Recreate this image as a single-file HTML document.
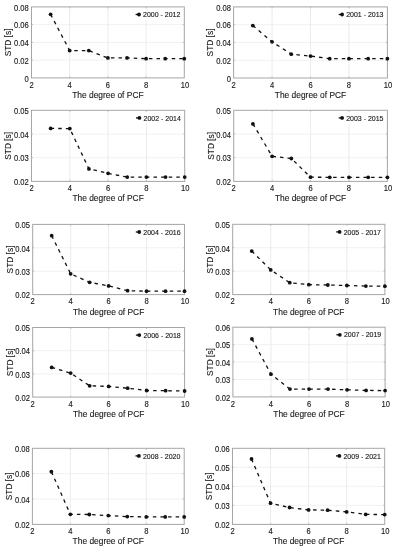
<!DOCTYPE html>
<html><head><meta charset="utf-8"><title>STD vs degree of PCF</title>
<style>
html,body{margin:0;padding:0;background:#fff;}
svg{display:block;}
text{font-family:"Liberation Sans", Arial, Helvetica, sans-serif;fill:#1a1a1a;stroke:#1a1a1a;stroke-width:0.12px;}
</style></head>
<body>
<svg width="395" height="550" viewBox="0 0 395 550">
<rect width="395" height="550" fill="#fff"/>
<path d="M69.7 6.9V77.9M107.9 6.9V77.9M146.1 6.9V77.9" stroke="#e3e3e3" stroke-width="0.7" fill="none"/>
<path d="M31.5 60.15H184.3M31.5 42.4H184.3M31.5 24.65H184.3" stroke="#ebebeb" stroke-width="0.7" fill="none"/>
<path d="M69.7 77.9v-1.5M69.7 6.9v1.5M107.9 77.9v-1.5M107.9 6.9v1.5M146.1 77.9v-1.5M146.1 6.9v1.5M31.5 60.15h1.5M184.3 60.15h-1.5M31.5 42.4h1.5M184.3 42.4h-1.5M31.5 24.65h1.5M184.3 24.65h-1.5" stroke="#b0b0b0" stroke-width="0.7" fill="none"/>
<rect x="31.5" y="6.9" width="152.8" height="71" stroke="#a6a6a6" stroke-width="1.0" fill="none"/>
<polyline points="50.6,14.3 69.7,50.6 88.8,50.6 107.9,57.9 127,57.9 146.1,58.7 165.2,58.7 184.3,58.7" stroke="#111111" stroke-width="1.3" stroke-dasharray="3.5 4.1" fill="none"/>
<circle cx="50.6" cy="14.3" r="1.9" fill="#111111"/>
<circle cx="69.7" cy="50.6" r="1.9" fill="#111111"/>
<circle cx="88.8" cy="50.6" r="1.9" fill="#111111"/>
<circle cx="107.9" cy="57.9" r="1.9" fill="#111111"/>
<circle cx="127" cy="57.9" r="1.9" fill="#111111"/>
<circle cx="146.1" cy="58.7" r="1.9" fill="#111111"/>
<circle cx="165.2" cy="58.7" r="1.9" fill="#111111"/>
<circle cx="184.3" cy="58.7" r="1.9" fill="#111111"/>
<text transform="matrix(1,0,0,1.15,0,-11.85)" x="28.8" y="79" text-anchor="end" dominant-baseline="central" font-size="7.6">0</text>
<text transform="matrix(1,0,0,1.15,0,-9.19)" x="28.8" y="61.25" text-anchor="end" dominant-baseline="central" font-size="7.6">0.02</text>
<text transform="matrix(1,0,0,1.15,0,-6.52)" x="28.8" y="43.5" text-anchor="end" dominant-baseline="central" font-size="7.6">0.04</text>
<text transform="matrix(1,0,0,1.15,0,-3.86)" x="28.8" y="25.75" text-anchor="end" dominant-baseline="central" font-size="7.6">0.06</text>
<text transform="matrix(1,0,0,1.15,0,-1.2)" x="28.8" y="8" text-anchor="end" dominant-baseline="central" font-size="7.6">0.08</text>
<text transform="matrix(1,0,0,1.15,0,-12.76)" x="31.5" y="85.1" text-anchor="middle" dominant-baseline="central" font-size="7.6">2</text>
<text transform="matrix(1,0,0,1.15,0,-12.76)" x="69.7" y="85.1" text-anchor="middle" dominant-baseline="central" font-size="7.6">4</text>
<text transform="matrix(1,0,0,1.15,0,-12.76)" x="107.9" y="85.1" text-anchor="middle" dominant-baseline="central" font-size="7.6">6</text>
<text transform="matrix(1,0,0,1.15,0,-12.76)" x="146.1" y="85.1" text-anchor="middle" dominant-baseline="central" font-size="7.6">8</text>
<text transform="matrix(1,0,0,1.15,0,-12.76)" x="184.9" y="85.1" text-anchor="middle" dominant-baseline="central" font-size="7.6">10</text>
<text transform="matrix(1,0,0,1.03,0,-2.94)" x="107.9" y="97.9" text-anchor="middle" font-size="8.4">The degree of PCF</text>
<text transform="translate(8.3,42.4) rotate(-90)" x="0" y="0" text-anchor="middle" dominant-baseline="central" font-size="8.4">STD [s]</text>
<rect x="132.6" y="8.7" width="49.9" height="11.6" fill="#fff"/>
<text transform="matrix(1,0,0,1.15,0,-2.17)" x="180.4" y="14.5" text-anchor="end" dominant-baseline="central" font-size="7.0">2000 - 2012</text>
<path d="M135.6 14.5H139" stroke="#111111" stroke-width="1.3"/>
<circle cx="139" cy="14.5" r="1.9" fill="#111111"/>
<path d="M272.05 6.9V78M310.5 6.9V78M348.95 6.9V78" stroke="#e3e3e3" stroke-width="0.7" fill="none"/>
<path d="M233.6 60.23H387.4M233.6 42.45H387.4M233.6 24.68H387.4" stroke="#ebebeb" stroke-width="0.7" fill="none"/>
<path d="M272.05 78v-1.5M272.05 6.9v1.5M310.5 78v-1.5M310.5 6.9v1.5M348.95 78v-1.5M348.95 6.9v1.5M233.6 60.23h1.5M387.4 60.23h-1.5M233.6 42.45h1.5M387.4 42.45h-1.5M233.6 24.68h1.5M387.4 24.68h-1.5" stroke="#b0b0b0" stroke-width="0.7" fill="none"/>
<rect x="233.6" y="6.9" width="153.8" height="71.1" stroke="#a6a6a6" stroke-width="1.0" fill="none"/>
<polyline points="252.82,25.6 272.05,41.8 291.27,54.2 310.5,56.1 329.72,58.7 348.95,58.7 368.17,58.7 387.4,58.7" stroke="#111111" stroke-width="1.3" stroke-dasharray="3.5 4.1" fill="none"/>
<circle cx="252.82" cy="25.6" r="1.9" fill="#111111"/>
<circle cx="272.05" cy="41.8" r="1.9" fill="#111111"/>
<circle cx="291.27" cy="54.2" r="1.9" fill="#111111"/>
<circle cx="310.5" cy="56.1" r="1.9" fill="#111111"/>
<circle cx="329.72" cy="58.7" r="1.9" fill="#111111"/>
<circle cx="348.95" cy="58.7" r="1.9" fill="#111111"/>
<circle cx="368.17" cy="58.7" r="1.9" fill="#111111"/>
<circle cx="387.4" cy="58.7" r="1.9" fill="#111111"/>
<text transform="matrix(1,0,0,1.15,0,-11.86)" x="230.9" y="79.1" text-anchor="end" dominant-baseline="central" font-size="7.6">0</text>
<text transform="matrix(1,0,0,1.15,0,-9.2)" x="230.9" y="61.33" text-anchor="end" dominant-baseline="central" font-size="7.6">0.02</text>
<text transform="matrix(1,0,0,1.15,0,-6.53)" x="230.9" y="43.55" text-anchor="end" dominant-baseline="central" font-size="7.6">0.04</text>
<text transform="matrix(1,0,0,1.15,0,-3.87)" x="230.9" y="25.78" text-anchor="end" dominant-baseline="central" font-size="7.6">0.06</text>
<text transform="matrix(1,0,0,1.15,0,-1.2)" x="230.9" y="8" text-anchor="end" dominant-baseline="central" font-size="7.6">0.08</text>
<text transform="matrix(1,0,0,1.15,0,-12.78)" x="233.6" y="85.2" text-anchor="middle" dominant-baseline="central" font-size="7.6">2</text>
<text transform="matrix(1,0,0,1.15,0,-12.78)" x="272.05" y="85.2" text-anchor="middle" dominant-baseline="central" font-size="7.6">4</text>
<text transform="matrix(1,0,0,1.15,0,-12.78)" x="310.5" y="85.2" text-anchor="middle" dominant-baseline="central" font-size="7.6">6</text>
<text transform="matrix(1,0,0,1.15,0,-12.78)" x="348.95" y="85.2" text-anchor="middle" dominant-baseline="central" font-size="7.6">8</text>
<text transform="matrix(1,0,0,1.15,0,-12.78)" x="388" y="85.2" text-anchor="middle" dominant-baseline="central" font-size="7.6">10</text>
<text transform="matrix(1,0,0,1.03,0,-2.94)" x="310.5" y="98" text-anchor="middle" font-size="8.4">The degree of PCF</text>
<text transform="translate(210.4,42.45) rotate(-90)" x="0" y="0" text-anchor="middle" dominant-baseline="central" font-size="8.4">STD [s]</text>
<rect x="335.7" y="8.7" width="49.9" height="11.6" fill="#fff"/>
<text transform="matrix(1,0,0,1.15,0,-2.17)" x="383.5" y="14.5" text-anchor="end" dominant-baseline="central" font-size="7.0">2001 - 2013</text>
<path d="M338.7 14.5H342.1" stroke="#111111" stroke-width="1.3"/>
<circle cx="342.1" cy="14.5" r="1.9" fill="#111111"/>
<path d="M69.8 110.3V181.4M108.1 110.3V181.4M146.4 110.3V181.4" stroke="#e3e3e3" stroke-width="0.7" fill="none"/>
<path d="M31.5 157.7H184.7M31.5 134H184.7" stroke="#ebebeb" stroke-width="0.7" fill="none"/>
<path d="M69.8 181.4v-1.5M69.8 110.3v1.5M108.1 181.4v-1.5M108.1 110.3v1.5M146.4 181.4v-1.5M146.4 110.3v1.5M31.5 157.7h1.5M184.7 157.7h-1.5M31.5 134h1.5M184.7 134h-1.5" stroke="#b0b0b0" stroke-width="0.7" fill="none"/>
<rect x="31.5" y="110.3" width="153.2" height="71.1" stroke="#a6a6a6" stroke-width="1.0" fill="none"/>
<polyline points="50.65,128.4 69.8,128.6 88.95,168.9 108.1,173.3 127.25,177.1 146.4,177.1 165.55,177.1 184.7,177.1" stroke="#111111" stroke-width="1.3" stroke-dasharray="3.5 4.1" fill="none"/>
<circle cx="50.65" cy="128.4" r="1.9" fill="#111111"/>
<circle cx="69.8" cy="128.6" r="1.9" fill="#111111"/>
<circle cx="88.95" cy="168.9" r="1.9" fill="#111111"/>
<circle cx="108.1" cy="173.3" r="1.9" fill="#111111"/>
<circle cx="127.25" cy="177.1" r="1.9" fill="#111111"/>
<circle cx="146.4" cy="177.1" r="1.9" fill="#111111"/>
<circle cx="165.55" cy="177.1" r="1.9" fill="#111111"/>
<circle cx="184.7" cy="177.1" r="1.9" fill="#111111"/>
<text transform="matrix(1,0,0,1.15,0,-27.37)" x="28.8" y="182.5" text-anchor="end" dominant-baseline="central" font-size="7.6">0.02</text>
<text transform="matrix(1,0,0,1.15,0,-23.82)" x="28.8" y="158.8" text-anchor="end" dominant-baseline="central" font-size="7.6">0.03</text>
<text transform="matrix(1,0,0,1.15,0,-20.26)" x="28.8" y="135.1" text-anchor="end" dominant-baseline="central" font-size="7.6">0.04</text>
<text transform="matrix(1,0,0,1.15,0,-16.71)" x="28.8" y="111.4" text-anchor="end" dominant-baseline="central" font-size="7.6">0.05</text>
<text transform="matrix(1,0,0,1.15,0,-28.29)" x="31.5" y="188.6" text-anchor="middle" dominant-baseline="central" font-size="7.6">2</text>
<text transform="matrix(1,0,0,1.15,0,-28.29)" x="69.8" y="188.6" text-anchor="middle" dominant-baseline="central" font-size="7.6">4</text>
<text transform="matrix(1,0,0,1.15,0,-28.29)" x="108.1" y="188.6" text-anchor="middle" dominant-baseline="central" font-size="7.6">6</text>
<text transform="matrix(1,0,0,1.15,0,-28.29)" x="146.4" y="188.6" text-anchor="middle" dominant-baseline="central" font-size="7.6">8</text>
<text transform="matrix(1,0,0,1.15,0,-28.29)" x="185.3" y="188.6" text-anchor="middle" dominant-baseline="central" font-size="7.6">10</text>
<text transform="matrix(1,0,0,1.03,0,-6.04)" x="108.1" y="201.4" text-anchor="middle" font-size="8.4">The degree of PCF</text>
<text transform="translate(8.3,145.85) rotate(-90)" x="0" y="0" text-anchor="middle" dominant-baseline="central" font-size="8.4">STD [s]</text>
<rect x="133" y="112.1" width="49.9" height="11.6" fill="#fff"/>
<text transform="matrix(1,0,0,1.15,0,-17.68)" x="180.8" y="117.9" text-anchor="end" dominant-baseline="central" font-size="7.0">2002 - 2014</text>
<path d="M136 117.9H139.4" stroke="#111111" stroke-width="1.3"/>
<circle cx="139.4" cy="117.9" r="1.9" fill="#111111"/>
<path d="M272.12 110.3V181.4M310.55 110.3V181.4M348.97 110.3V181.4" stroke="#e3e3e3" stroke-width="0.7" fill="none"/>
<path d="M233.7 157.7H387.4M233.7 134H387.4" stroke="#ebebeb" stroke-width="0.7" fill="none"/>
<path d="M272.12 181.4v-1.5M272.12 110.3v1.5M310.55 181.4v-1.5M310.55 110.3v1.5M348.97 181.4v-1.5M348.97 110.3v1.5M233.7 157.7h1.5M387.4 157.7h-1.5M233.7 134h1.5M387.4 134h-1.5" stroke="#b0b0b0" stroke-width="0.7" fill="none"/>
<rect x="233.7" y="110.3" width="153.7" height="71.1" stroke="#a6a6a6" stroke-width="1.0" fill="none"/>
<polyline points="252.91,123.9 272.12,156.3 291.34,158.5 310.55,177.2 329.76,177.3 348.97,177.3 368.19,177.3 387.4,177.3" stroke="#111111" stroke-width="1.3" stroke-dasharray="3.5 4.1" fill="none"/>
<circle cx="252.91" cy="123.9" r="1.9" fill="#111111"/>
<circle cx="272.12" cy="156.3" r="1.9" fill="#111111"/>
<circle cx="291.34" cy="158.5" r="1.9" fill="#111111"/>
<circle cx="310.55" cy="177.2" r="1.9" fill="#111111"/>
<circle cx="329.76" cy="177.3" r="1.9" fill="#111111"/>
<circle cx="348.97" cy="177.3" r="1.9" fill="#111111"/>
<circle cx="368.19" cy="177.3" r="1.9" fill="#111111"/>
<circle cx="387.4" cy="177.3" r="1.9" fill="#111111"/>
<text transform="matrix(1,0,0,1.15,0,-27.37)" x="231" y="182.5" text-anchor="end" dominant-baseline="central" font-size="7.6">0.02</text>
<text transform="matrix(1,0,0,1.15,0,-23.82)" x="231" y="158.8" text-anchor="end" dominant-baseline="central" font-size="7.6">0.03</text>
<text transform="matrix(1,0,0,1.15,0,-20.26)" x="231" y="135.1" text-anchor="end" dominant-baseline="central" font-size="7.6">0.04</text>
<text transform="matrix(1,0,0,1.15,0,-16.71)" x="231" y="111.4" text-anchor="end" dominant-baseline="central" font-size="7.6">0.05</text>
<text transform="matrix(1,0,0,1.15,0,-28.29)" x="233.7" y="188.6" text-anchor="middle" dominant-baseline="central" font-size="7.6">2</text>
<text transform="matrix(1,0,0,1.15,0,-28.29)" x="272.12" y="188.6" text-anchor="middle" dominant-baseline="central" font-size="7.6">4</text>
<text transform="matrix(1,0,0,1.15,0,-28.29)" x="310.55" y="188.6" text-anchor="middle" dominant-baseline="central" font-size="7.6">6</text>
<text transform="matrix(1,0,0,1.15,0,-28.29)" x="348.97" y="188.6" text-anchor="middle" dominant-baseline="central" font-size="7.6">8</text>
<text transform="matrix(1,0,0,1.15,0,-28.29)" x="388" y="188.6" text-anchor="middle" dominant-baseline="central" font-size="7.6">10</text>
<text transform="matrix(1,0,0,1.03,0,-6.04)" x="310.55" y="201.4" text-anchor="middle" font-size="8.4">The degree of PCF</text>
<text transform="translate(210.5,145.85) rotate(-90)" x="0" y="0" text-anchor="middle" dominant-baseline="central" font-size="8.4">STD [s]</text>
<rect x="335.7" y="112.1" width="49.9" height="11.6" fill="#fff"/>
<text transform="matrix(1,0,0,1.15,0,-17.68)" x="383.5" y="117.9" text-anchor="end" dominant-baseline="central" font-size="7.0">2003 - 2015</text>
<path d="M338.7 117.9H342.1" stroke="#111111" stroke-width="1.3"/>
<circle cx="342.1" cy="117.9" r="1.9" fill="#111111"/>
<path d="M70.65 224.4V294.6M108.6 224.4V294.6M146.55 224.4V294.6" stroke="#e3e3e3" stroke-width="0.7" fill="none"/>
<path d="M32.7 271.2H184.5M32.7 247.8H184.5" stroke="#ebebeb" stroke-width="0.7" fill="none"/>
<path d="M70.65 294.6v-1.5M70.65 224.4v1.5M108.6 294.6v-1.5M108.6 224.4v1.5M146.55 294.6v-1.5M146.55 224.4v1.5M32.7 271.2h1.5M184.5 271.2h-1.5M32.7 247.8h1.5M184.5 247.8h-1.5" stroke="#b0b0b0" stroke-width="0.7" fill="none"/>
<rect x="32.7" y="224.4" width="151.8" height="70.2" stroke="#a6a6a6" stroke-width="1.0" fill="none"/>
<polyline points="51.68,235.7 70.65,273.8 89.62,282.3 108.6,285.9 127.58,290.7 146.55,291.2 165.53,291.2 184.5,291.2" stroke="#111111" stroke-width="1.3" stroke-dasharray="3.5 4.1" fill="none"/>
<circle cx="51.68" cy="235.7" r="1.9" fill="#111111"/>
<circle cx="70.65" cy="273.8" r="1.9" fill="#111111"/>
<circle cx="89.62" cy="282.3" r="1.9" fill="#111111"/>
<circle cx="108.6" cy="285.9" r="1.9" fill="#111111"/>
<circle cx="127.58" cy="290.7" r="1.9" fill="#111111"/>
<circle cx="146.55" cy="291.2" r="1.9" fill="#111111"/>
<circle cx="165.53" cy="291.2" r="1.9" fill="#111111"/>
<circle cx="184.5" cy="291.2" r="1.9" fill="#111111"/>
<text transform="matrix(1,0,0,1.15,0,-44.35)" x="30" y="295.7" text-anchor="end" dominant-baseline="central" font-size="7.6">0.02</text>
<text transform="matrix(1,0,0,1.15,0,-40.84)" x="30" y="272.3" text-anchor="end" dominant-baseline="central" font-size="7.6">0.03</text>
<text transform="matrix(1,0,0,1.15,0,-37.33)" x="30" y="248.9" text-anchor="end" dominant-baseline="central" font-size="7.6">0.04</text>
<text transform="matrix(1,0,0,1.15,0,-33.82)" x="30" y="225.5" text-anchor="end" dominant-baseline="central" font-size="7.6">0.05</text>
<text transform="matrix(1,0,0,1.15,0,-45.27)" x="32.7" y="301.8" text-anchor="middle" dominant-baseline="central" font-size="7.6">2</text>
<text transform="matrix(1,0,0,1.15,0,-45.27)" x="70.65" y="301.8" text-anchor="middle" dominant-baseline="central" font-size="7.6">4</text>
<text transform="matrix(1,0,0,1.15,0,-45.27)" x="108.6" y="301.8" text-anchor="middle" dominant-baseline="central" font-size="7.6">6</text>
<text transform="matrix(1,0,0,1.15,0,-45.27)" x="146.55" y="301.8" text-anchor="middle" dominant-baseline="central" font-size="7.6">8</text>
<text transform="matrix(1,0,0,1.15,0,-45.27)" x="185.1" y="301.8" text-anchor="middle" dominant-baseline="central" font-size="7.6">10</text>
<text transform="matrix(1,0,0,1.03,0,-9.44)" x="108.6" y="314.6" text-anchor="middle" font-size="8.4">The degree of PCF</text>
<text transform="translate(9.5,259.5) rotate(-90)" x="0" y="0" text-anchor="middle" dominant-baseline="central" font-size="8.4">STD [s]</text>
<rect x="132.8" y="226.2" width="49.9" height="11.6" fill="#fff"/>
<text transform="matrix(1,0,0,1.15,0,-34.8)" x="180.6" y="232" text-anchor="end" dominant-baseline="central" font-size="7.0">2004 - 2016</text>
<path d="M135.8 232H139.2" stroke="#111111" stroke-width="1.3"/>
<circle cx="139.2" cy="232" r="1.9" fill="#111111"/>
<path d="M270.75 224.3V294.6M308.8 224.3V294.6M346.85 224.3V294.6" stroke="#e3e3e3" stroke-width="0.7" fill="none"/>
<path d="M232.7 271.17H384.9M232.7 247.73H384.9" stroke="#ebebeb" stroke-width="0.7" fill="none"/>
<path d="M270.75 294.6v-1.5M270.75 224.3v1.5M308.8 294.6v-1.5M308.8 224.3v1.5M346.85 294.6v-1.5M346.85 224.3v1.5M232.7 271.17h1.5M384.9 271.17h-1.5M232.7 247.73h1.5M384.9 247.73h-1.5" stroke="#b0b0b0" stroke-width="0.7" fill="none"/>
<rect x="232.7" y="224.3" width="152.2" height="70.3" stroke="#a6a6a6" stroke-width="1.0" fill="none"/>
<polyline points="251.72,251.1 270.75,269.9 289.77,282.7 308.8,284.7 327.82,285 346.85,285.5 365.88,286.1 384.9,286.2" stroke="#111111" stroke-width="1.3" stroke-dasharray="3.5 4.1" fill="none"/>
<circle cx="251.72" cy="251.1" r="1.9" fill="#111111"/>
<circle cx="270.75" cy="269.9" r="1.9" fill="#111111"/>
<circle cx="289.77" cy="282.7" r="1.9" fill="#111111"/>
<circle cx="308.8" cy="284.7" r="1.9" fill="#111111"/>
<circle cx="327.82" cy="285" r="1.9" fill="#111111"/>
<circle cx="346.85" cy="285.5" r="1.9" fill="#111111"/>
<circle cx="365.88" cy="286.1" r="1.9" fill="#111111"/>
<circle cx="384.9" cy="286.2" r="1.9" fill="#111111"/>
<text transform="matrix(1,0,0,1.15,0,-44.35)" x="230" y="295.7" text-anchor="end" dominant-baseline="central" font-size="7.6">0.02</text>
<text transform="matrix(1,0,0,1.15,0,-40.84)" x="230" y="272.27" text-anchor="end" dominant-baseline="central" font-size="7.6">0.03</text>
<text transform="matrix(1,0,0,1.15,0,-37.32)" x="230" y="248.83" text-anchor="end" dominant-baseline="central" font-size="7.6">0.04</text>
<text transform="matrix(1,0,0,1.15,0,-33.81)" x="230" y="225.4" text-anchor="end" dominant-baseline="central" font-size="7.6">0.05</text>
<text transform="matrix(1,0,0,1.15,0,-45.27)" x="232.7" y="301.8" text-anchor="middle" dominant-baseline="central" font-size="7.6">2</text>
<text transform="matrix(1,0,0,1.15,0,-45.27)" x="270.75" y="301.8" text-anchor="middle" dominant-baseline="central" font-size="7.6">4</text>
<text transform="matrix(1,0,0,1.15,0,-45.27)" x="308.8" y="301.8" text-anchor="middle" dominant-baseline="central" font-size="7.6">6</text>
<text transform="matrix(1,0,0,1.15,0,-45.27)" x="346.85" y="301.8" text-anchor="middle" dominant-baseline="central" font-size="7.6">8</text>
<text transform="matrix(1,0,0,1.15,0,-45.27)" x="385.5" y="301.8" text-anchor="middle" dominant-baseline="central" font-size="7.6">10</text>
<text transform="matrix(1,0,0,1.03,0,-9.44)" x="308.8" y="314.6" text-anchor="middle" font-size="8.4">The degree of PCF</text>
<text transform="translate(209.5,259.45) rotate(-90)" x="0" y="0" text-anchor="middle" dominant-baseline="central" font-size="8.4">STD [s]</text>
<rect x="333.2" y="226.1" width="49.9" height="11.6" fill="#fff"/>
<text transform="matrix(1,0,0,1.15,0,-34.78)" x="381" y="231.9" text-anchor="end" dominant-baseline="central" font-size="7.0">2005 - 2017</text>
<path d="M336.2 231.9H339.6" stroke="#111111" stroke-width="1.3"/>
<circle cx="339.6" cy="231.9" r="1.9" fill="#111111"/>
<path d="M70.67 327.5V397.1M108.65 327.5V397.1M146.62 327.5V397.1" stroke="#e3e3e3" stroke-width="0.7" fill="none"/>
<path d="M32.7 373.9H184.6M32.7 350.7H184.6" stroke="#ebebeb" stroke-width="0.7" fill="none"/>
<path d="M70.67 397.1v-1.5M70.67 327.5v1.5M108.65 397.1v-1.5M108.65 327.5v1.5M146.62 397.1v-1.5M146.62 327.5v1.5M32.7 373.9h1.5M184.6 373.9h-1.5M32.7 350.7h1.5M184.6 350.7h-1.5" stroke="#b0b0b0" stroke-width="0.7" fill="none"/>
<rect x="32.7" y="327.5" width="151.9" height="69.6" stroke="#a6a6a6" stroke-width="1.0" fill="none"/>
<polyline points="51.69,367.4 70.67,373.1 89.66,385.8 108.65,386.4 127.64,388.2 146.62,390.5 165.61,390.7 184.6,391" stroke="#111111" stroke-width="1.3" stroke-dasharray="3.5 4.1" fill="none"/>
<circle cx="51.69" cy="367.4" r="1.9" fill="#111111"/>
<circle cx="70.67" cy="373.1" r="1.9" fill="#111111"/>
<circle cx="89.66" cy="385.8" r="1.9" fill="#111111"/>
<circle cx="108.65" cy="386.4" r="1.9" fill="#111111"/>
<circle cx="127.64" cy="388.2" r="1.9" fill="#111111"/>
<circle cx="146.62" cy="390.5" r="1.9" fill="#111111"/>
<circle cx="165.61" cy="390.7" r="1.9" fill="#111111"/>
<circle cx="184.6" cy="391" r="1.9" fill="#111111"/>
<text transform="matrix(1,0,0,1.15,0,-59.73)" x="30" y="398.2" text-anchor="end" dominant-baseline="central" font-size="7.6">0.02</text>
<text transform="matrix(1,0,0,1.15,0,-56.25)" x="30" y="375" text-anchor="end" dominant-baseline="central" font-size="7.6">0.03</text>
<text transform="matrix(1,0,0,1.15,0,-52.77)" x="30" y="351.8" text-anchor="end" dominant-baseline="central" font-size="7.6">0.04</text>
<text transform="matrix(1,0,0,1.15,0,-49.29)" x="30" y="328.6" text-anchor="end" dominant-baseline="central" font-size="7.6">0.05</text>
<text transform="matrix(1,0,0,1.15,0,-60.64)" x="32.7" y="404.3" text-anchor="middle" dominant-baseline="central" font-size="7.6">2</text>
<text transform="matrix(1,0,0,1.15,0,-60.64)" x="70.67" y="404.3" text-anchor="middle" dominant-baseline="central" font-size="7.6">4</text>
<text transform="matrix(1,0,0,1.15,0,-60.64)" x="108.65" y="404.3" text-anchor="middle" dominant-baseline="central" font-size="7.6">6</text>
<text transform="matrix(1,0,0,1.15,0,-60.64)" x="146.62" y="404.3" text-anchor="middle" dominant-baseline="central" font-size="7.6">8</text>
<text transform="matrix(1,0,0,1.15,0,-60.64)" x="185.2" y="404.3" text-anchor="middle" dominant-baseline="central" font-size="7.6">10</text>
<text transform="matrix(1,0,0,1.03,0,-12.51)" x="108.65" y="417.1" text-anchor="middle" font-size="8.4">The degree of PCF</text>
<text transform="translate(9.5,362.3) rotate(-90)" x="0" y="0" text-anchor="middle" dominant-baseline="central" font-size="8.4">STD [s]</text>
<rect x="132.9" y="329.3" width="49.9" height="11.6" fill="#fff"/>
<text transform="matrix(1,0,0,1.15,0,-50.26)" x="180.7" y="335.1" text-anchor="end" dominant-baseline="central" font-size="7.0">2006 - 2018</text>
<path d="M135.9 335.1H139.3" stroke="#111111" stroke-width="1.3"/>
<circle cx="139.3" cy="335.1" r="1.9" fill="#111111"/>
<path d="M270.95 327.2V396.9M309 327.2V396.9M347.05 327.2V396.9" stroke="#e3e3e3" stroke-width="0.7" fill="none"/>
<path d="M232.9 379.47H385.1M232.9 362.05H385.1M232.9 344.62H385.1" stroke="#ebebeb" stroke-width="0.7" fill="none"/>
<path d="M270.95 396.9v-1.5M270.95 327.2v1.5M309 396.9v-1.5M309 327.2v1.5M347.05 396.9v-1.5M347.05 327.2v1.5M232.9 379.47h1.5M385.1 379.47h-1.5M232.9 362.05h1.5M385.1 362.05h-1.5M232.9 344.62h1.5M385.1 344.62h-1.5" stroke="#b0b0b0" stroke-width="0.7" fill="none"/>
<rect x="232.9" y="327.2" width="152.2" height="69.7" stroke="#a6a6a6" stroke-width="1.0" fill="none"/>
<polyline points="251.93,338.9 270.95,374.2 289.98,389.1 309,389.1 328.03,389.1 347.05,389.8 366.08,390.4 385.1,390.6" stroke="#111111" stroke-width="1.3" stroke-dasharray="3.5 4.1" fill="none"/>
<circle cx="251.93" cy="338.9" r="1.9" fill="#111111"/>
<circle cx="270.95" cy="374.2" r="1.9" fill="#111111"/>
<circle cx="289.98" cy="389.1" r="1.9" fill="#111111"/>
<circle cx="309" cy="389.1" r="1.9" fill="#111111"/>
<circle cx="328.03" cy="389.1" r="1.9" fill="#111111"/>
<circle cx="347.05" cy="389.8" r="1.9" fill="#111111"/>
<circle cx="366.08" cy="390.4" r="1.9" fill="#111111"/>
<circle cx="385.1" cy="390.6" r="1.9" fill="#111111"/>
<text transform="matrix(1,0,0,1.15,0,-59.7)" x="230.2" y="398" text-anchor="end" dominant-baseline="central" font-size="7.6">0.02</text>
<text transform="matrix(1,0,0,1.15,0,-57.09)" x="230.2" y="380.57" text-anchor="end" dominant-baseline="central" font-size="7.6">0.03</text>
<text transform="matrix(1,0,0,1.15,0,-54.47)" x="230.2" y="363.15" text-anchor="end" dominant-baseline="central" font-size="7.6">0.04</text>
<text transform="matrix(1,0,0,1.15,0,-51.86)" x="230.2" y="345.73" text-anchor="end" dominant-baseline="central" font-size="7.6">0.05</text>
<text transform="matrix(1,0,0,1.15,0,-49.24)" x="230.2" y="328.3" text-anchor="end" dominant-baseline="central" font-size="7.6">0.06</text>
<text transform="matrix(1,0,0,1.15,0,-60.61)" x="232.9" y="404.1" text-anchor="middle" dominant-baseline="central" font-size="7.6">2</text>
<text transform="matrix(1,0,0,1.15,0,-60.61)" x="270.95" y="404.1" text-anchor="middle" dominant-baseline="central" font-size="7.6">4</text>
<text transform="matrix(1,0,0,1.15,0,-60.61)" x="309" y="404.1" text-anchor="middle" dominant-baseline="central" font-size="7.6">6</text>
<text transform="matrix(1,0,0,1.15,0,-60.61)" x="347.05" y="404.1" text-anchor="middle" dominant-baseline="central" font-size="7.6">8</text>
<text transform="matrix(1,0,0,1.15,0,-60.61)" x="385.7" y="404.1" text-anchor="middle" dominant-baseline="central" font-size="7.6">10</text>
<text transform="matrix(1,0,0,1.03,0,-12.51)" x="309" y="416.9" text-anchor="middle" font-size="8.4">The degree of PCF</text>
<text transform="translate(209.7,362.05) rotate(-90)" x="0" y="0" text-anchor="middle" dominant-baseline="central" font-size="8.4">STD [s]</text>
<rect x="333.4" y="329" width="49.9" height="11.6" fill="#fff"/>
<text transform="matrix(1,0,0,1.15,0,-50.22)" x="381.2" y="334.8" text-anchor="end" dominant-baseline="central" font-size="7.0">2007 - 2019</text>
<path d="M336.4 334.8H339.8" stroke="#111111" stroke-width="1.3"/>
<circle cx="339.8" cy="334.8" r="1.9" fill="#111111"/>
<path d="M70.35 448.3V524.4M108.3 448.3V524.4M146.25 448.3V524.4" stroke="#e3e3e3" stroke-width="0.7" fill="none"/>
<path d="M32.4 499.03H184.2M32.4 473.67H184.2" stroke="#ebebeb" stroke-width="0.7" fill="none"/>
<path d="M70.35 524.4v-1.5M70.35 448.3v1.5M108.3 524.4v-1.5M108.3 448.3v1.5M146.25 524.4v-1.5M146.25 448.3v1.5M32.4 499.03h1.5M184.2 499.03h-1.5M32.4 473.67h1.5M184.2 473.67h-1.5" stroke="#b0b0b0" stroke-width="0.7" fill="none"/>
<rect x="32.4" y="448.3" width="151.8" height="76.1" stroke="#a6a6a6" stroke-width="1.0" fill="none"/>
<polyline points="51.38,471.7 70.35,514.3 89.32,514.5 108.3,515.6 127.27,516.6 146.25,516.9 165.22,516.9 184.2,516.9" stroke="#111111" stroke-width="1.3" stroke-dasharray="3.5 4.1" fill="none"/>
<circle cx="51.38" cy="471.7" r="1.9" fill="#111111"/>
<circle cx="70.35" cy="514.3" r="1.9" fill="#111111"/>
<circle cx="89.32" cy="514.5" r="1.9" fill="#111111"/>
<circle cx="108.3" cy="515.6" r="1.9" fill="#111111"/>
<circle cx="127.27" cy="516.6" r="1.9" fill="#111111"/>
<circle cx="146.25" cy="516.9" r="1.9" fill="#111111"/>
<circle cx="165.22" cy="516.9" r="1.9" fill="#111111"/>
<circle cx="184.2" cy="516.9" r="1.9" fill="#111111"/>
<text transform="matrix(1,0,0,1.15,0,-78.82)" x="29.7" y="525.5" text-anchor="end" dominant-baseline="central" font-size="7.6">0.02</text>
<text transform="matrix(1,0,0,1.15,0,-75.02)" x="29.7" y="500.13" text-anchor="end" dominant-baseline="central" font-size="7.6">0.04</text>
<text transform="matrix(1,0,0,1.15,0,-71.21)" x="29.7" y="474.77" text-anchor="end" dominant-baseline="central" font-size="7.6">0.06</text>
<text transform="matrix(1,0,0,1.15,0,-67.41)" x="29.7" y="449.4" text-anchor="end" dominant-baseline="central" font-size="7.6">0.08</text>
<text transform="matrix(1,0,0,1.15,0,-79.74)" x="32.4" y="531.6" text-anchor="middle" dominant-baseline="central" font-size="7.6">2</text>
<text transform="matrix(1,0,0,1.15,0,-79.74)" x="70.35" y="531.6" text-anchor="middle" dominant-baseline="central" font-size="7.6">4</text>
<text transform="matrix(1,0,0,1.15,0,-79.74)" x="108.3" y="531.6" text-anchor="middle" dominant-baseline="central" font-size="7.6">6</text>
<text transform="matrix(1,0,0,1.15,0,-79.74)" x="146.25" y="531.6" text-anchor="middle" dominant-baseline="central" font-size="7.6">8</text>
<text transform="matrix(1,0,0,1.15,0,-79.74)" x="184.8" y="531.6" text-anchor="middle" dominant-baseline="central" font-size="7.6">10</text>
<text transform="matrix(1,0,0,1.03,0,-16.33)" x="108.3" y="544.4" text-anchor="middle" font-size="8.4">The degree of PCF</text>
<text transform="translate(9.2,486.35) rotate(-90)" x="0" y="0" text-anchor="middle" dominant-baseline="central" font-size="8.4">STD [s]</text>
<rect x="132.5" y="450.1" width="49.9" height="11.6" fill="#fff"/>
<text transform="matrix(1,0,0,1.15,0,-68.38)" x="180.3" y="455.9" text-anchor="end" dominant-baseline="central" font-size="7.0">2008 - 2020</text>
<path d="M135.5 455.9H138.9" stroke="#111111" stroke-width="1.3"/>
<circle cx="138.9" cy="455.9" r="1.9" fill="#111111"/>
<path d="M270.55 448.3V524.4M308.6 448.3V524.4M346.65 448.3V524.4" stroke="#e3e3e3" stroke-width="0.7" fill="none"/>
<path d="M232.5 505.38H384.7M232.5 486.35H384.7M232.5 467.32H384.7" stroke="#ebebeb" stroke-width="0.7" fill="none"/>
<path d="M270.55 524.4v-1.5M270.55 448.3v1.5M308.6 524.4v-1.5M308.6 448.3v1.5M346.65 524.4v-1.5M346.65 448.3v1.5M232.5 505.38h1.5M384.7 505.38h-1.5M232.5 486.35h1.5M384.7 486.35h-1.5M232.5 467.32h1.5M384.7 467.32h-1.5" stroke="#b0b0b0" stroke-width="0.7" fill="none"/>
<rect x="232.5" y="448.3" width="152.2" height="76.1" stroke="#a6a6a6" stroke-width="1.0" fill="none"/>
<polyline points="251.53,459 270.55,503.2 289.57,507.5 308.6,509.9 327.62,510.2 346.65,511.9 365.67,514.4 384.7,514.6" stroke="#111111" stroke-width="1.3" stroke-dasharray="3.5 4.1" fill="none"/>
<circle cx="251.53" cy="459" r="1.9" fill="#111111"/>
<circle cx="270.55" cy="503.2" r="1.9" fill="#111111"/>
<circle cx="289.57" cy="507.5" r="1.9" fill="#111111"/>
<circle cx="308.6" cy="509.9" r="1.9" fill="#111111"/>
<circle cx="327.62" cy="510.2" r="1.9" fill="#111111"/>
<circle cx="346.65" cy="511.9" r="1.9" fill="#111111"/>
<circle cx="365.67" cy="514.4" r="1.9" fill="#111111"/>
<circle cx="384.7" cy="514.6" r="1.9" fill="#111111"/>
<text transform="matrix(1,0,0,1.15,0,-78.82)" x="229.8" y="525.5" text-anchor="end" dominant-baseline="central" font-size="7.6">0.02</text>
<text transform="matrix(1,0,0,1.15,0,-75.97)" x="229.8" y="506.48" text-anchor="end" dominant-baseline="central" font-size="7.6">0.03</text>
<text transform="matrix(1,0,0,1.15,0,-73.12)" x="229.8" y="487.45" text-anchor="end" dominant-baseline="central" font-size="7.6">0.04</text>
<text transform="matrix(1,0,0,1.15,0,-70.26)" x="229.8" y="468.43" text-anchor="end" dominant-baseline="central" font-size="7.6">0.05</text>
<text transform="matrix(1,0,0,1.15,0,-67.41)" x="229.8" y="449.4" text-anchor="end" dominant-baseline="central" font-size="7.6">0.06</text>
<text transform="matrix(1,0,0,1.15,0,-79.74)" x="232.5" y="531.6" text-anchor="middle" dominant-baseline="central" font-size="7.6">2</text>
<text transform="matrix(1,0,0,1.15,0,-79.74)" x="270.55" y="531.6" text-anchor="middle" dominant-baseline="central" font-size="7.6">4</text>
<text transform="matrix(1,0,0,1.15,0,-79.74)" x="308.6" y="531.6" text-anchor="middle" dominant-baseline="central" font-size="7.6">6</text>
<text transform="matrix(1,0,0,1.15,0,-79.74)" x="346.65" y="531.6" text-anchor="middle" dominant-baseline="central" font-size="7.6">8</text>
<text transform="matrix(1,0,0,1.15,0,-79.74)" x="385.3" y="531.6" text-anchor="middle" dominant-baseline="central" font-size="7.6">10</text>
<text transform="matrix(1,0,0,1.03,0,-16.33)" x="308.6" y="544.4" text-anchor="middle" font-size="8.4">The degree of PCF</text>
<text transform="translate(209.3,486.35) rotate(-90)" x="0" y="0" text-anchor="middle" dominant-baseline="central" font-size="8.4">STD [s]</text>
<rect x="333" y="450.1" width="49.9" height="11.6" fill="#fff"/>
<text transform="matrix(1,0,0,1.15,0,-68.38)" x="380.8" y="455.9" text-anchor="end" dominant-baseline="central" font-size="7.0">2009 - 2021</text>
<path d="M336 455.9H339.4" stroke="#111111" stroke-width="1.3"/>
<circle cx="339.4" cy="455.9" r="1.9" fill="#111111"/>
</svg>
</body></html>
